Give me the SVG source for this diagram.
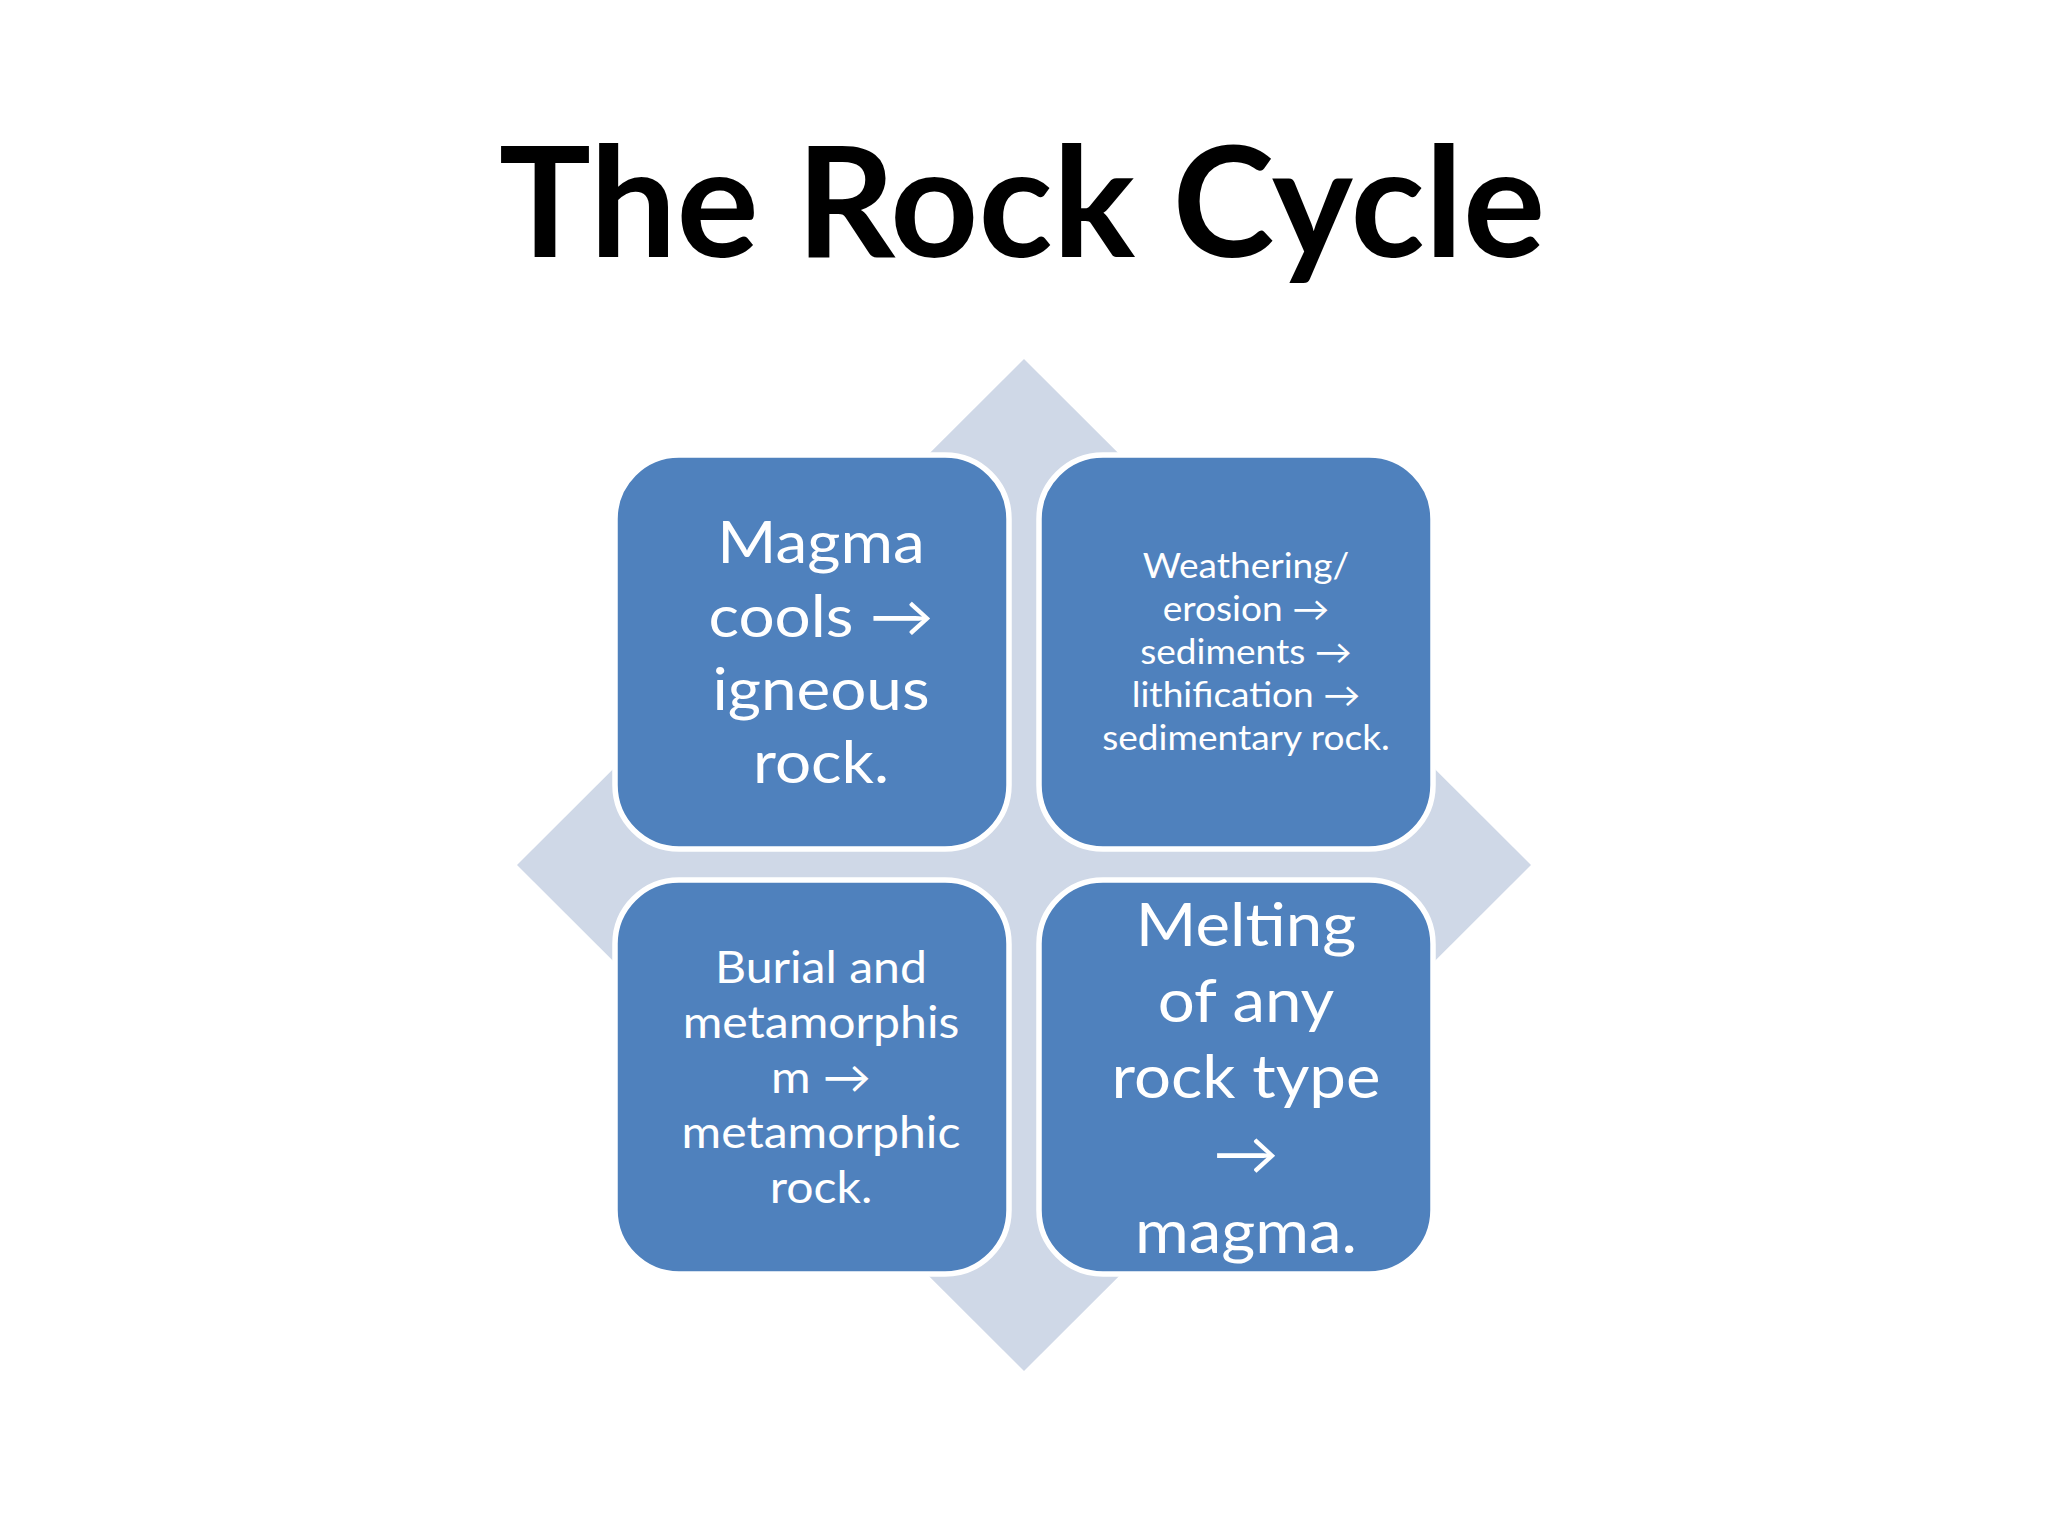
<svg xmlns="http://www.w3.org/2000/svg" width="2048" height="1536" viewBox="0 0 2048 1536">
  <style>
    .bg { fill: #ffffff; }
    .diamond { fill: #CFD8E7; }
    .box { fill: #4F81BD; stroke: #ffffff; stroke-width: 5.5; }
    .title { font-family: Lato, "Liberation Sans", sans-serif; font-weight: 700; font-size: 154px; fill: #000000; text-anchor: middle; }
    .lbl { font-family: Lato, "Noto Sans", "DejaVu Sans", sans-serif; fill: #ffffff; text-anchor: middle; }
  </style>
  <rect class="bg" x="0" y="0" width="2048" height="1536"/>
  <g id="title">
    <text class="title" x="1022" y="257">The Rock Cycle</text>
  </g>
  <g id="background-diamond">
    <polygon class="diamond" points="1024,359 1531,865 1024,1371 517,865"/>
  </g>
  <g id="connectors"></g>
  <g id="node-igneous">
    <rect class="box" x="615" y="455" width="394" height="394" rx="64" ry="64"/>
    <g class="lbl" font-size="58" transform="matrix(1.1,0,0,1,-82.1,0)">
      <text x="821" y="563">Magma</text>
      <text x="821" y="637">cools →</text>
      <text x="821" y="710">igneous</text>
      <text x="821" y="783">rock.</text>
    </g>
  </g>
  <g id="node-sedimentary">
    <rect class="box" x="1039" y="455" width="394" height="394" rx="64" ry="64"/>
    <g class="lbl" font-size="34" transform="matrix(1.09,0,0,1,-112.14,0)">
      <text x="1246" y="578">Weathering/</text>
      <text x="1246" y="621">erosion →</text>
      <text x="1246" y="664">sediments →</text>
      <text x="1246" y="707">lithification →</text>
      <text x="1246" y="750">sedimentary rock.</text>
    </g>
  </g>
  <g id="node-metamorphic">
    <rect class="box" x="615" y="880" width="394" height="394" rx="64" ry="64"/>
    <g class="lbl" font-size="45" transform="matrix(1.07,0,0,1,-57.47,0)">
      <text x="821" y="983">Burial and</text>
      <text x="821" y="1038">metamorphis</text>
      <text x="821" y="1093">m →</text>
      <text x="821" y="1148">metamorphic</text>
      <text x="821" y="1203">rock.</text>
    </g>
  </g>
  <g id="node-magma">
    <rect class="box" x="1039" y="880" width="394" height="394" rx="64" ry="64"/>
    <g class="lbl" font-size="60" transform="matrix(1.09,0,0,1,-112.14,0)">
      <text x="1246" y="946">Melting</text>
      <text x="1246" y="1022">of any</text>
      <text x="1246" y="1098">rock type</text>
      <text x="1246" y="1175">→</text>
      <text x="1246" y="1253">magma.</text>
    </g>
  </g>
</svg>
